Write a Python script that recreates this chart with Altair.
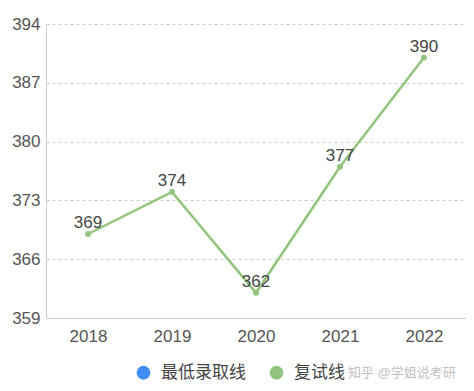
import altair as alt
import pandas as pd

years = ["2018", "2019", "2020", "2021", "2022"]
retest = [369, 374, 362, 377, 390]
series_names = ["最低录取线", "复试线"]
series_colors = ["#3f8cf4", "#93c47d"]
y_ticks = [359, 366, 373, 380, 387, 394]
watermark = "知乎 @学姐说考研"

df = pd.DataFrame({"year": years, "value": retest, "series": "复试线"})

FONT = "Liberation Sans, Noto Sans CJK SC, sans-serif"

x_enc = alt.X("year:N", sort=years, title=None,
              axis=alt.Axis(labelAngle=0, ticks=False, grid=False, domain=True,
                            domainColor="#cccccc", labelFontSize=17,
                            labelColor="#555555", labelPadding=10, labelFont=FONT))
y_enc = alt.Y("value:Q", title=None,
              scale=alt.Scale(domain=[359, 394], nice=False, zero=False),
              axis=alt.Axis(values=y_ticks, ticks=False, grid=True, gridDash=[3, 3],
                            gridColor="#cccccc", domain=True, domainColor="#cccccc",
                            labelFontSize=17, labelColor="#555555", labelPadding=6,
                            labelFont=FONT))

base = alt.Chart(df)

line = base.mark_line(color="#93c47d", strokeWidth=2.5).encode(x=x_enc, y=y_enc)

pts = base.mark_circle(size=35, opacity=1).encode(
    x=x_enc, y=y_enc,
    color=alt.Color("series:N",
                    scale=alt.Scale(domain=series_names, range=series_colors),
                    legend=alt.Legend(title=None, orient="none", legendX=89, legendY=340,
                                      direction="horizontal", symbolType="circle",
                                      symbolSize=190, labelFontSize=17,
                                      labelColor="#444444", labelOffset=9,
                                      columnPadding=22, labelFont=FONT)))

labels = base.mark_text(fontSize=17, color="#444444", dy=-11, font=FONT).encode(
    x=x_enc, y=y_enc, text="value:Q")

wm = alt.Chart(pd.DataFrame({"t": [watermark]})).mark_text(
    fontSize=13, color="#999999", opacity=0.6, align="left", font=FONT
).encode(x=alt.value(302), y=alt.value(349), text="t:N")

chart = alt.layer(line, pts, labels, wm).properties(
    width=420, height=294,
    autosize=alt.AutoSizeParams(type="none"),
    padding={"left": 38, "top": 16, "right": 0, "bottom": 65},
).configure_view(stroke=None)

chart.save("out.html", embed_options={"renderer": "svg", "actions": False})
